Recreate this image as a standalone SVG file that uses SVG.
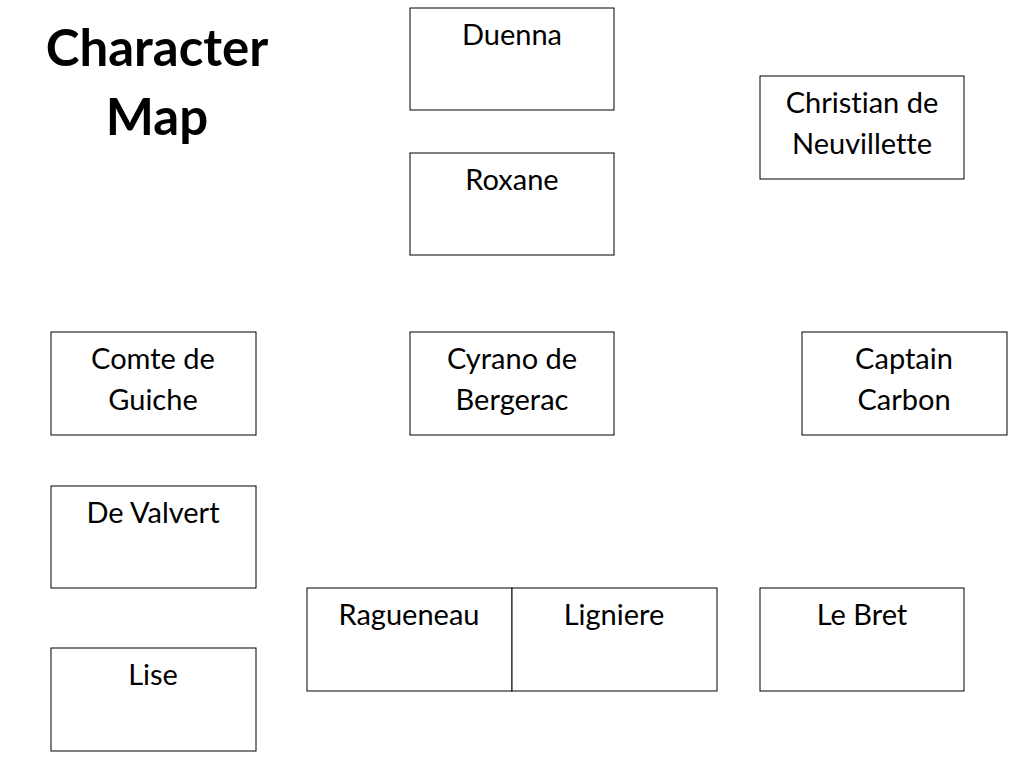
<svg xmlns="http://www.w3.org/2000/svg" width="1024" height="768" viewBox="0 0 1024 768">
<style>
rect{fill:#fff;stroke:#000;stroke-width:1}
text{font-family:Lato,"Open Sans","Liberation Sans",sans-serif;font-size:29px;text-anchor:middle;fill:#000;font-variant-ligatures:none}
.t{font-weight:bold;font-size:51px}
</style>
<rect x="0" y="0" width="1024" height="768" style="stroke:none"/>
<g id="title"><text class="t" x="157" y="66">Character</text><text class="t" x="157" y="135">Map</text></g>
<g id="duenna"><rect x="410" y="8" width="204" height="102"/><text x="512" y="45">Duenna</text></g>
<g id="roxane"><rect x="410" y="153" width="204" height="102"/><text x="512" y="190">Roxane</text></g>
<g id="christian"><rect x="760" y="76" width="204" height="103"/><text x="862" y="113">Christian de</text><text x="862" y="154">Neuvillette</text></g>
<g id="comte"><rect x="51" y="332" width="205" height="103"/><text x="153" y="369">Comte de</text><text x="153" y="410">Guiche</text></g>
<g id="cyrano"><rect x="410" y="332" width="204" height="103"/><text x="512" y="369">Cyrano de</text><text x="512" y="410">Bergerac</text></g>
<g id="carbon"><rect x="802" y="332" width="205" height="103"/><text x="904" y="369">Captain</text><text x="904" y="410">Carbon</text></g>
<g id="valvert"><rect x="51" y="486" width="205" height="102"/><text x="153" y="523">De Valvert</text></g>
<g id="ragueneau"><rect x="307" y="588" width="205" height="103"/><text x="409" y="625">Ragueneau</text></g>
<g id="ligniere"><rect x="512" y="588" width="205" height="103"/><text x="614" y="625">Ligniere</text></g>
<g id="lebret"><rect x="760" y="588" width="204" height="103"/><text x="862" y="625">Le Bret</text></g>
<g id="lise"><rect x="51" y="648" width="205" height="103"/><text x="153" y="685">Lise</text></g>
<g id="connectors"></g>
</svg>
